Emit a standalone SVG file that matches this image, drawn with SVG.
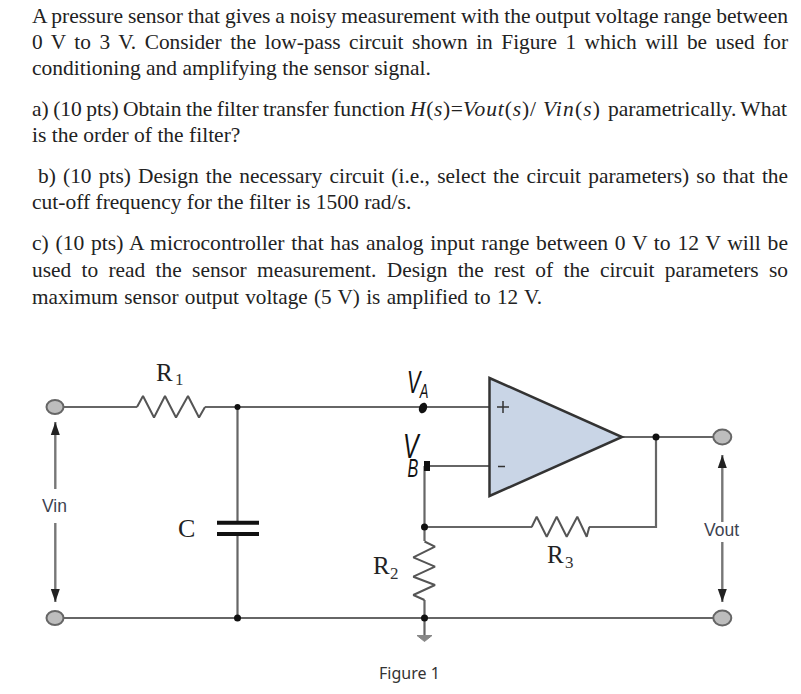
<svg xmlns="http://www.w3.org/2000/svg" width="801" height="694" viewBox="0 0 801 694">
<style>
.t{font-family:"Liberation Serif","Times New Roman",serif;font-size:21.5px;fill:#222}
.i{font-style:italic}
.w{fill:none;stroke:#666;stroke-width:2.200}
.r{fill:none;stroke:#555;stroke-width:2;stroke-linejoin:bevel}
.term{fill:#bdbdbd;stroke:#666;stroke-width:2}
.dot{fill:#111}
.lab{font-family:"Liberation Serif",serif;font-size:25px;fill:#222}
.sub{font-family:"Liberation Serif",serif;font-size:17px;fill:#333}
.v{font-family:"Liberation Sans",Arial,sans-serif;font-size:17.500px;fill:#3d4250}
.hand{font-family:"Liberation Sans",Arial,sans-serif;font-style:italic;fill:#111}
.arr{fill:none;stroke:#777;stroke-width:2.400;marker-end:url(#h)}
</style>
<defs>
<marker id="h" markerUnits="userSpaceOnUse" markerWidth="13" markerHeight="10" refX="13" refY="5" orient="auto"><path d="M0 0.500L13 5L0 9.500Z" fill="#222"/></marker>
</defs>
<rect width="801" height="694" fill="#fff"/>
<g id="problem-text">
<text class="t" x="32" y="23" word-spacing="-0.500" textLength="756" lengthAdjust="spacingAndGlyphs">A pressure sensor that gives a noisy measurement with the output voltage range between</text>
<text class="t" x="32" y="49" word-spacing="3.200" textLength="756" lengthAdjust="spacingAndGlyphs">0 V to 3 V. Consider the low-pass circuit shown in Figure 1 which will be used for</text>
<text class="t" x="32" y="75">conditioning and amplifying the sensor signal.</text>
<text class="t" x="32" y="116" word-spacing="-1" textLength="373" lengthAdjust="spacingAndGlyphs">a) (10 pts) Obtain the filter transfer function</text>
<text class="t" x="410" y="116" textLength="53"><tspan class="i">H</tspan>(<tspan class="i">s</tspan>)=</text>
<text class="t" x="463" y="116" textLength="73"><tspan class="i">Vout</tspan>(<tspan class="i">s</tspan>)/</text>
<text class="t" x="543" y="116" textLength="57"><tspan class="i">Vin</tspan>(<tspan class="i">s</tspan>)</text>
<text class="t" x="608" y="116" word-spacing="-1" textLength="179" lengthAdjust="spacingAndGlyphs">parametrically. What</text>
<text class="t" x="32" y="142">is the order of the filter?</text>
<text class="t" x="38" y="183" word-spacing="1.900" textLength="750" lengthAdjust="spacingAndGlyphs">b) (10 pts) Design the necessary circuit (i.e., select the circuit parameters) so that the</text>
<text class="t" x="32" y="209">cut-off frequency for the filter is 1500 rad/s.</text>
<text class="t" x="32" y="250" word-spacing="1.300" textLength="756" lengthAdjust="spacingAndGlyphs">c) (10 pts) A microcontroller that has analog input range between 0 V to 12 V will be</text>
<text class="t" x="32" y="277" word-spacing="5" textLength="756" lengthAdjust="spacingAndGlyphs">used to read the sensor measurement. Design the rest of the circuit parameters so</text>
<text class="t" x="32" y="304" word-spacing="1" textLength="510" lengthAdjust="spacingAndGlyphs">maximum sensor output voltage (5 V) is amplified to 12 V.</text>
</g>
<g id="connectors">
<path class="w" d="M63 407H137M205 407H490M237.500 407V523M237.500 534V618M63 618H714"/>
<path class="w" d="M425 466H490M424.500 466V541M424.500 600V636M424.500 527H532M589 527H656V437M622 437H714"/>
<path class="arr" d="M55.300 489V422"/>
<path class="arr" d="M55.300 523V602"/>
<path class="arr" d="M722.300 522V455"/>
<path class="arr" d="M722.300 542V602"/>
</g>
<g id="R1"><path class="r" d="M137 407L143 396L154 417.500L165 396L176 417.500L188 396L199 417.500L205 407"/>
<text class="lab" x="156" y="381">R</text><text class="sub" x="175" y="385">1</text></g>
<g id="C"><path d="M217 522.700H259M217 534H259" stroke="#111" stroke-width="4" fill="none"/><text class="lab" x="178" y="537" style="font-size:26px">C</text></g>
<g id="R2"><path class="r" d="M424.500 541.500L435 546.700L413.300 557.300L435 566.700L413.300 576.700L435 585L413.300 595L424.500 600"/>
<text class="lab" x="373" y="574">R</text><text class="sub" x="390" y="579">2</text></g>
<g id="R3"><path class="r" d="M531.700 527L536.700 516.700L546.700 536.700L556.700 516.700L566.700 536.700L577.300 516.700L586.700 536.700L589.300 527"/>
<text class="lab" x="547" y="563">R</text><text class="sub" x="565" y="568">3</text></g>
<g id="opamp"><path d="M489.500 378L489.500 496L622 437Z" fill="#c9d5e6" stroke="#333" stroke-width="2.500" stroke-linejoin="miter"/>
<path d="M497 407H509M503 401V413" stroke="#333" stroke-width="1.500"/>
<path d="M498 466.500H505" stroke="#333" stroke-width="1.500"/></g>
<g id="ground"><path d="M417 635.500H432L424.500 641.500Z" fill="#888" stroke="#888" stroke-width="1"/></g>
<g id="junctions">
<circle class="dot" cx="237.500" cy="407" r="3"/><circle class="dot" cx="237.500" cy="618" r="3.500"/>
<circle class="dot" cx="424.500" cy="527" r="3.500"/><circle class="dot" cx="424.500" cy="618" r="3.500"/>
<circle class="dot" cx="656" cy="437" r="3.500"/>
<ellipse class="dot" cx="423" cy="408" rx="4" ry="5.500" transform="rotate(20 423 408)"/><rect class="dot" x="424" y="461" width="6" height="10"/>
</g>
<g id="terminals">
<ellipse class="term" cx="55" cy="407" rx="8.500" ry="7"/><ellipse class="term" cx="55" cy="618" rx="8.500" ry="7"/>
<ellipse class="term" cx="722.300" cy="437" rx="9" ry="7.500"/><ellipse class="term" cx="722.300" cy="618" rx="9" ry="7.500"/>
</g>
<g id="labels">
<text class="v" x="42" y="512">Vin</text>
<text class="v" x="704" y="536">Vout</text>
<text class="hand" transform="translate(407 393) scale(0.65 1)" font-size="31">V<tspan font-size="20" dx="-1" dy="5">A</tspan></text>
<text class="hand" transform="translate(403 458) scale(0.65 1)" font-size="36">V<tspan font-size="25" dx="-17" dy="19">B</tspan></text>
<text x="379" y="679" font-family="'Noto Sans',sans-serif" font-size="16" fill="#333">Figure 1</text>
</g>
</svg>
